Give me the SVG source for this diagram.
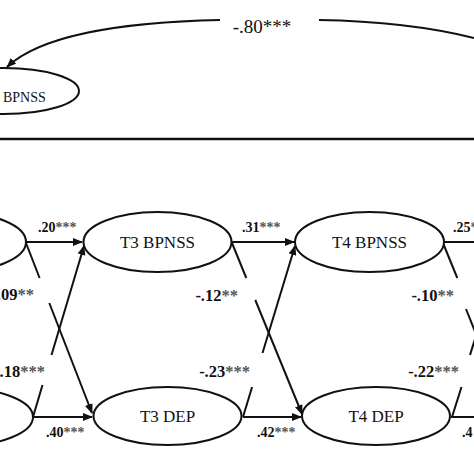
<svg xmlns="http://www.w3.org/2000/svg" width="474" height="474" viewBox="0 0 474 474">
<style>
.n ellipse{fill:#fff;stroke:#111;stroke-width:2}
.nt{font-family:"Liberation Serif","Times New Roman",serif;font-size:17px;fill:#111;text-anchor:middle}
.c line,.c path{stroke:#111;stroke-width:2;fill:none}
.l{font-family:"Liberation Serif","Times New Roman",serif;font-size:14px;font-weight:bold;fill:#111}
.x{font-family:"Liberation Serif","Times New Roman",serif;font-size:16.5px;font-weight:bold;fill:#111;text-anchor:end}
.s{fill:#555}
</style>
<defs>
<marker id="ah" markerWidth="10" markerHeight="8" refX="9" refY="4" orient="auto" markerUnits="userSpaceOnUse"><path d="M0,0 L10,4 L0,8 z" fill="#111"/></marker>
</defs>
<rect width="474" height="474" fill="#fff"/>
<g class="c" id="connectors">
<path d="M 474 38 C 430 27, 380 21, 319 20"/>
<path d="M 220 20 C 120 22, 40 36, 7 67" marker-end="url(#ah)"/>
<line x1="0" y1="139" x2="474" y2="139" style="stroke-width:2.5"/>
<line x1="26" y1="242" x2="82" y2="242" marker-end="url(#ah)"/>
<line x1="232" y1="242" x2="294" y2="242" marker-end="url(#ah)"/>
<line x1="443" y1="242" x2="474" y2="242"/>
<line x1="33" y1="417" x2="92" y2="417" marker-end="url(#ah)"/>
<line x1="243" y1="417" x2="301" y2="417" marker-end="url(#ah)"/>
<line x1="451" y1="417" x2="474" y2="417"/>
<line x1="26" y1="243" x2="39.6" y2="278"/>
<line x1="49.3" y1="303" x2="92" y2="413" marker-end="url(#ah)"/>
<line x1="33" y1="417" x2="42.5" y2="385"/>
<line x1="51.5" y1="355" x2="84" y2="246" marker-end="url(#ah)"/>
<line x1="232" y1="243" x2="246.3" y2="278"/>
<line x1="255.3" y1="300" x2="302" y2="414" marker-end="url(#ah)"/>
<line x1="243" y1="417" x2="252.1" y2="387"/>
<line x1="262.5" y1="353" x2="295" y2="246" marker-end="url(#ah)"/>
<line x1="443" y1="243" x2="457.3" y2="278"/>
<line x1="466" y1="309" x2="476" y2="334"/>
<line x1="452" y1="417" x2="461.5" y2="387"/>
<line x1="470" y1="355" x2="479" y2="326"/>
</g>
<g class="n" id="t2bpnss_top"><ellipse cx="4" cy="91" rx="75" ry="23"/><text x="3" y="102" class="nt" style="font-size:14px;text-anchor:start">BPNSS</text></g>
<g class="n" id="t2bpnss"><ellipse cx="-48" cy="242" rx="74" ry="30"/></g>
<g class="n" id="t3bpnss"><ellipse cx="157.5" cy="242" rx="74" ry="30"/><text x="157.5" y="248" class="nt">T3 BPNSS</text></g>
<g class="n" id="t4bpnss"><ellipse cx="369.5" cy="242" rx="74.5" ry="30"/><text x="369.5" y="248" class="nt">T4 BPNSS</text></g>
<g class="n" id="t2dep"><ellipse cx="-41" cy="417" rx="74" ry="29"/></g>
<g class="n" id="t3dep"><ellipse cx="167.5" cy="416" rx="74" ry="29"/><text x="167.5" y="422" class="nt">T3 DEP</text></g>
<g class="n" id="t4dep"><ellipse cx="376" cy="416" rx="74" ry="29"/><text x="376" y="422" class="nt">T4 DEP</text></g>
<g id="labels">
<text x="262" y="33" style="font-family:'Liberation Serif','Times New Roman',serif;font-size:19px;fill:#111;text-anchor:middle">-.80***</text>
<text class="l" x="38" y="232">.20<tspan class="s">***</tspan></text>
<text class="x" x="34" y="300">-.09<tspan class="s">**</tspan></text>
<text class="x" x="45" y="377">-.18<tspan class="s">***</tspan></text>
<text class="l" x="46" y="437">.40<tspan class="s">***</tspan></text>
<text class="l" x="242" y="232">.31<tspan class="s">***</tspan></text>
<text class="x" x="238" y="301">-.12<tspan class="s">**</tspan></text>
<text class="x" x="250" y="377">-.23<tspan class="s">***</tspan></text>
<text class="l" x="257" y="437">.42<tspan class="s">***</tspan></text>
<text class="l" x="453" y="232">.25<tspan class="s">***</tspan></text>
<text class="x" x="454" y="301">-.10<tspan class="s">**</tspan></text>
<text class="x" x="459" y="377">-.22<tspan class="s">***</tspan></text>
<text class="l" x="462" y="437">.4</text>
</g>
</svg>
